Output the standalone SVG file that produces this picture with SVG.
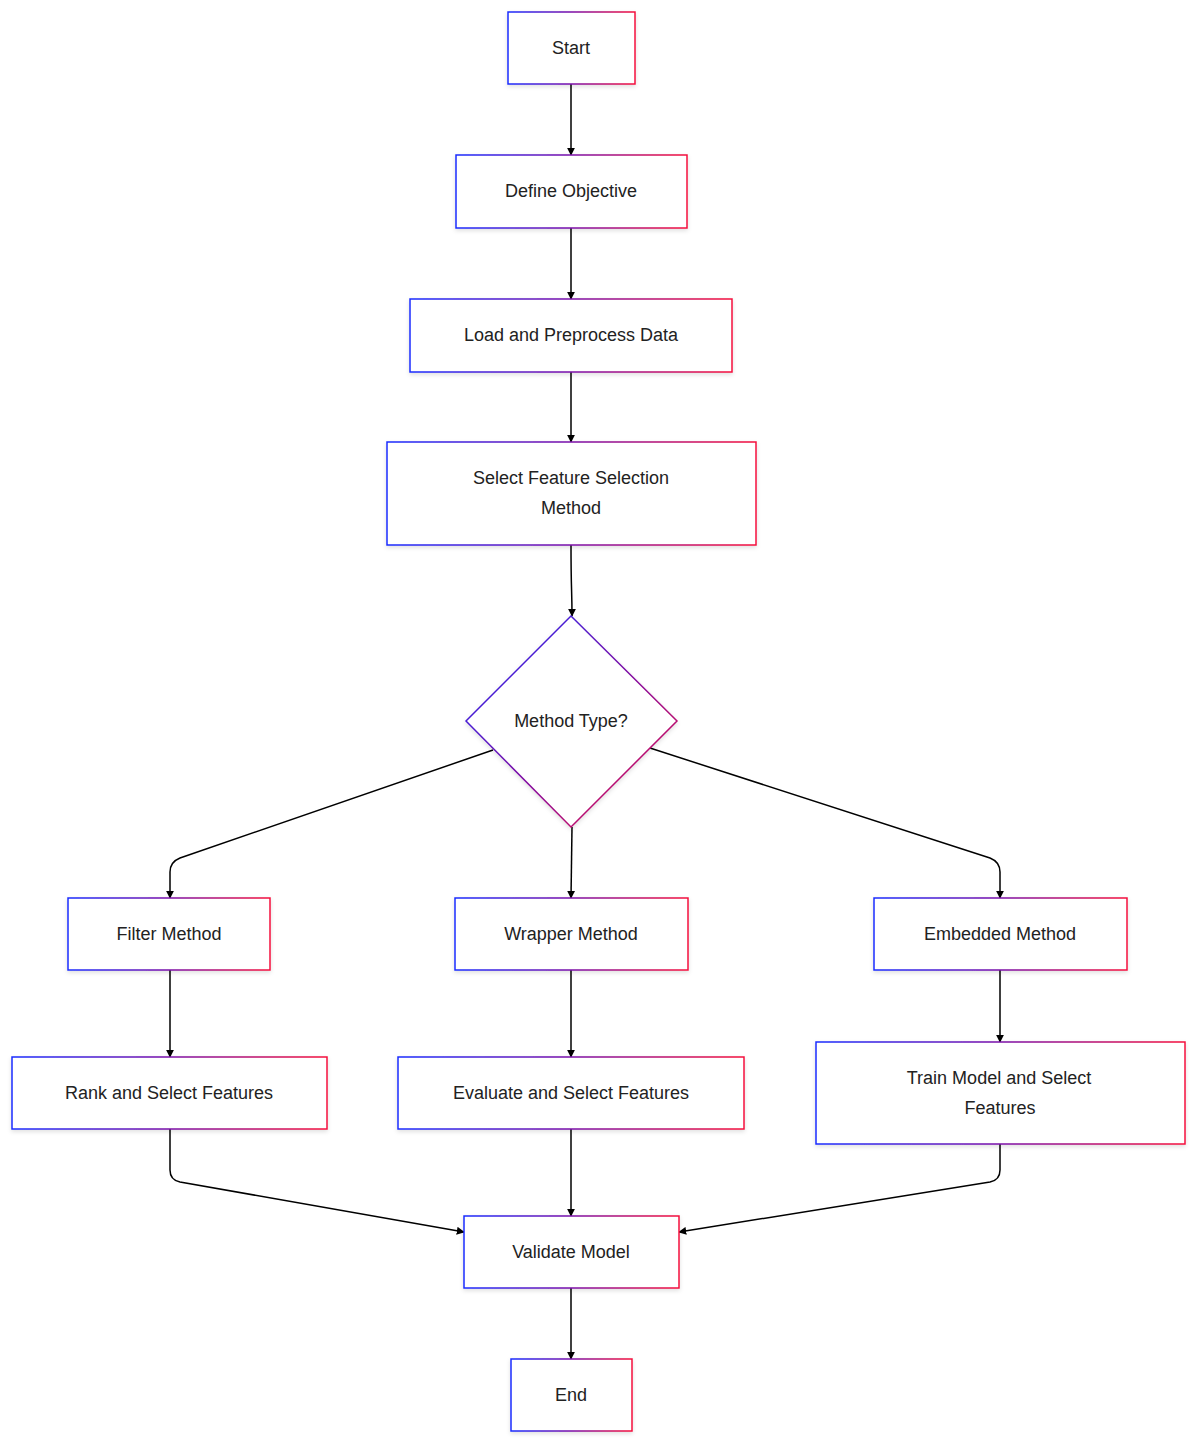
<svg xmlns="http://www.w3.org/2000/svg" width="1200" height="1447" viewBox="0 0 1200 1447">
<defs>
<linearGradient id="g" x1="0" y1="0" x2="1" y2="0"><stop offset="0" stop-color="#1a2cff"/><stop offset="0.5" stop-color="#7a10a8"/><stop offset="1" stop-color="#f5103c"/></linearGradient>
<linearGradient id="gd" x1="0" y1="0" x2="1" y2="1"><stop offset="0" stop-color="#1a2cff"/><stop offset="0.5" stop-color="#7a10a8"/><stop offset="1" stop-color="#f5103c"/></linearGradient>
<filter id="sh" x="-10%" y="-10%" width="120%" height="130%"><feDropShadow dx="0" dy="2" stdDeviation="2" flood-color="#000" flood-opacity="0.12"/></filter>
<marker id="a" viewBox="0 0 10 10" refX="9" refY="5" markerWidth="8" markerHeight="8" orient="auto" markerUnits="userSpaceOnUse"><path d="M0,0L10,5L0,10z" fill="#000"/></marker>
</defs>
<style>
.n{fill:#fff;stroke:url(#g);stroke-width:1.5;filter:url(#sh)}
.d{fill:#fff;stroke:url(#gd);stroke-width:1.5;filter:url(#sh)}
text{font-family:"Liberation Sans",Arial,sans-serif;font-size:18px;fill:#222;text-anchor:middle;dominant-baseline:central}
.c{fill:none;stroke:#000;stroke-width:1.5;marker-end:url(#a)}
</style>
<rect width="1200" height="1447" fill="#fff"/>
<g id="connectors">
<path class="c" d="M571,84V155"/>
<path class="c" d="M571,228V299"/>
<path class="c" d="M571,372V442"/>
<path class="c" d="M571,545C571,590 572,590 572,616"/>
<path class="c" d="M493,750L180,858Q170,862 170,872V898"/>
<path class="c" d="M572,827L571,898"/>
<path class="c" d="M650,748L990,858Q1000,862 1000,872V898"/>
<path class="c" d="M170,970V1057"/>
<path class="c" d="M571,970V1057"/>
<path class="c" d="M1000,970V1042"/>
<path class="c" d="M170,1129V1170Q170,1180 180,1182L464,1232"/>
<path class="c" d="M571,1129V1216"/>
<path class="c" d="M1000,1144V1170Q1000,1180 990,1182L679,1232"/>
<path class="c" d="M571,1288V1359"/>
</g>
<g id="start"><rect class="n" x="508" y="12" width="127" height="72"/><text x="571" y="48">Start</text></g>
<g id="define"><rect class="n" x="456" y="155" width="231" height="73"/><text x="571" y="191">Define Objective</text></g>
<g id="load"><rect class="n" x="410" y="299" width="322" height="73"/><text x="571" y="335">Load and Preprocess Data</text></g>
<g id="select"><rect class="n" x="387" y="442" width="369" height="103"/><text x="571" y="478">Select Feature Selection</text><text x="571" y="508">Method</text></g>
<g id="type"><path class="d" d="M571,616L677,721L571,827L466,721Z"/><text x="571" y="721">Method Type?</text></g>
<g id="filter"><rect class="n" x="68" y="898" width="202" height="72"/><text x="169" y="934">Filter Method</text></g>
<g id="wrapper"><rect class="n" x="455" y="898" width="233" height="72"/><text x="571" y="934">Wrapper Method</text></g>
<g id="embedded"><rect class="n" x="874" y="898" width="253" height="72"/><text x="1000" y="934">Embedded Method</text></g>
<g id="rank"><rect class="n" x="12" y="1057" width="315" height="72"/><text x="169" y="1093">Rank and Select Features</text></g>
<g id="evaluate"><rect class="n" x="398" y="1057" width="346" height="72"/><text x="571" y="1093">Evaluate and Select Features</text></g>
<g id="train"><rect class="n" x="816" y="1042" width="369" height="102"/><text x="999" y="1078">Train Model and Select</text><text x="1000" y="1108">Features</text></g>
<g id="validate"><rect class="n" x="464" y="1216" width="215" height="72"/><text x="571" y="1252">Validate Model</text></g>
<g id="end"><rect class="n" x="511" y="1359" width="121" height="72"/><text x="571" y="1395">End</text></g>
</svg>
